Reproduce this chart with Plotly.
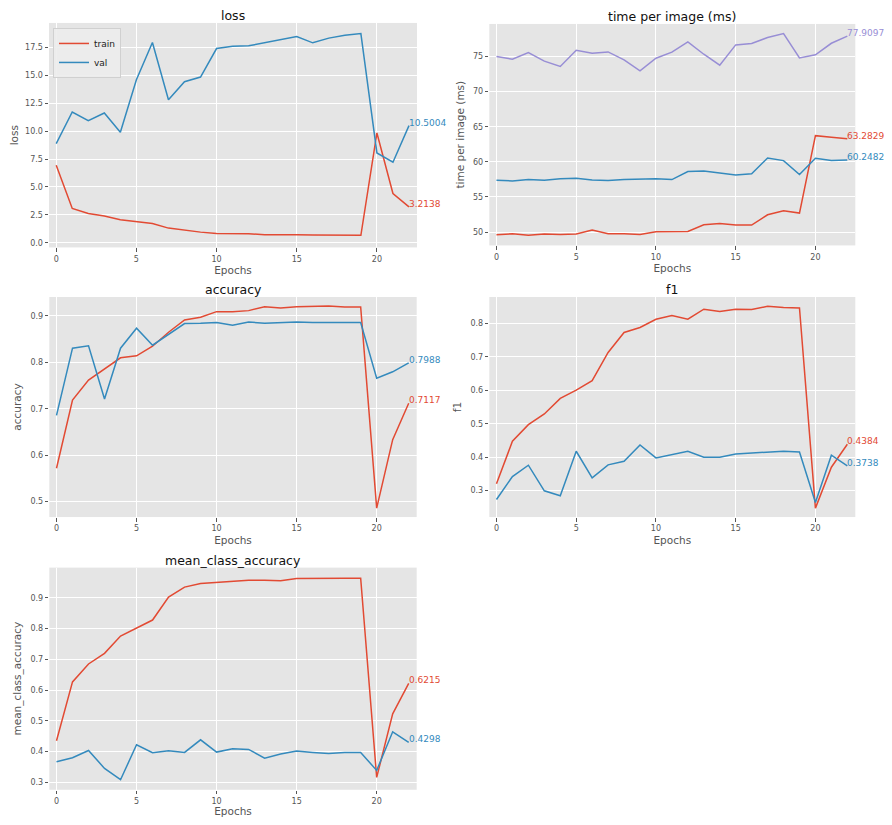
import plotly.graph_objects as go

EPOCHS = list(range(23))

LOSS_TRAIN = [6.95, 3.07, 2.62, 2.39, 2.06, 1.91, 1.73, 1.31, 1.10, 0.95, 0.83, 0.83,
              0.80, 0.72, 0.75, 0.72, 0.69, 0.66, 0.69, 0.66, 9.84, 4.41, 3.2138]
LOSS_VAL = [8.88, 11.72, 10.94, 11.63, 9.90, 14.61, 17.95, 12.82, 14.43, 14.85, 17.41, 17.62,
            17.65, 17.95, 18.19, 18.49, 17.92, 18.34, 18.60, 18.75, 8.05, 7.22, 10.5004]

TIME_TRAIN = [49.62, 49.76, 49.53, 49.72, 49.67, 49.72, 50.28, 49.76, 49.76, 49.67, 50.05, 50.05,
              50.09, 51.04, 51.23, 50.99, 50.99, 52.46, 53.03, 52.70, 63.73, 63.49, 63.2829]
TIME_VAL = [57.39, 57.29, 57.48, 57.39, 57.58, 57.67, 57.43, 57.34, 57.48, 57.58, 57.58, 57.48,
            58.62, 58.71, 58.47, 58.14, 58.29, 60.56, 60.18, 58.19, 60.51, 60.18, 60.2482]
TIME_TEST = [75.00, 74.62, 75.57, 74.34, 73.58, 75.90, 75.47, 75.66, 74.53, 72.96, 74.76, 75.62,
             77.08, 75.33, 73.77, 76.66, 76.85, 77.70, 78.27, 74.81, 75.24, 76.89, 77.9097]

ACC_TRAIN = [0.5717, 0.7186, 0.7616, 0.7853, 0.8097, 0.8140, 0.8348, 0.8649, 0.8914, 0.8971,
             0.9093, 0.9093, 0.9115, 0.9200, 0.9172, 0.9200, 0.9200, 0.9215, 0.9194, 0.9194,
             0.4857, 0.6333, 0.7117]
ACC_VAL = [0.6857, 0.8305, 0.8355, 0.7208, 0.8305, 0.8735, 0.8369, 0.8606, 0.8835, 0.8842,
           0.8857, 0.8799, 0.8871, 0.8842, 0.8857, 0.8871, 0.8857, 0.8857, 0.8864, 0.8857,
           0.7659, 0.7796, 0.7988]

F1_TRAIN = [0.3199, 0.4474, 0.4972, 0.5291, 0.5759, 0.6008, 0.6287, 0.7133, 0.7731, 0.7880,
            0.8129, 0.8239, 0.8129, 0.8428, 0.8359, 0.8428, 0.8418, 0.8518, 0.8478, 0.8468,
            0.2472, 0.3697, 0.4384]
F1_VAL = [0.2731, 0.3418, 0.3757, 0.2990, 0.2841, 0.4175, 0.3378, 0.3767, 0.3876, 0.4365,
          0.3976, 0.4076, 0.4175, 0.3996, 0.3996, 0.4096, 0.4116, 0.4155, 0.4175, 0.4155,
          0.2641, 0.4056, 0.3738]

MCA_TRAIN = [0.4351, 0.6265, 0.6849, 0.7195, 0.7757, 0.8027, 0.8276, 0.9022, 0.9346, 0.9465,
             0.9508, 0.9541, 0.9573, 0.9573, 0.9551, 0.9627, 0.9638, 0.9627, 0.9638, 0.9638,
             0.3162, 0.5227, 0.6215]
MCA_VAL = [0.3670, 0.3800, 0.4038, 0.3454, 0.3086, 0.4222, 0.3962, 0.4027, 0.3973, 0.4384,
           0.3984, 0.4092, 0.4070, 0.3789, 0.3919, 0.4016, 0.3973, 0.3941, 0.3973, 0.3973,
           0.3389, 0.4643, 0.4298]

RED = "#E24A33"
BLUE = "#348ABD"
PURPLE = "#988ED5"

# the page body has an 8px margin, so the figure is drawn inside it
PAD = 8
W, H = 892 - 2 * PAD, 825 - 2 * PAD
FONT = "DejaVu Sans, Arial, sans-serif"


def px_x(px):
    return (px - PAD) / W


def px_y(py):
    return 1 - (py - PAD) / H


# panel boxes in window pixels: (left, right, top, bottom)
PANELS = [
    {"title": "loss", "box": (49, 417, 23, 248), "yrange": [-0.42, 19.7], "dtick": 2.5, "fmt": ".1f",
     "series": [("train", LOSS_TRAIN, RED), ("val", LOSS_VAL, BLUE)]},
    {"title": "time per image (ms)", "box": (489.3, 855.3, 24, 246), "yrange": [48.1, 79.64], "dtick": 5, "fmt": "d",
     "series": [("train", TIME_TRAIN, RED), ("val", TIME_VAL, BLUE), ("test", TIME_TEST, PURPLE)]},
    {"title": "accuracy", "box": (49.3, 416.7, 297.7, 518.3), "yrange": [0.4665, 0.9409], "dtick": 0.1, "fmt": ".1f",
     "series": [("train", ACC_TRAIN, RED), ("val", ACC_VAL, BLUE)]},
    {"title": "f1", "box": (489.3, 855.3, 297.7, 518.3), "yrange": [0.2205, 0.8795], "dtick": 0.1, "fmt": ".1f",
     "series": [("train", F1_TRAIN, RED), ("val", F1_VAL, BLUE)]},
    {"title": "mean_class_accuracy", "box": (49.3, 416.7, 569, 791.7), "yrange": [0.276, 0.998], "dtick": 0.1, "fmt": ".1f",
     "series": [("train", MCA_TRAIN, RED), ("val", MCA_VAL, BLUE)]},
]


fig = go.Figure()
annotations = []
layout = {}

for i, panel in enumerate(PANELS, start=1):
    left, right, top, bottom = panel["box"]
    xa = "x" if i == 1 else f"x{i}"
    ya = "y" if i == 1 else f"y{i}"
    xkey = "xaxis" if i == 1 else f"xaxis{i}"
    ykey = "yaxis" if i == 1 else f"yaxis{i}"

    for name, values, color in panel["series"]:
        fig.add_trace(
            go.Scatter(
                x=EPOCHS,
                y=values,
                mode="lines",
                name=name,
                line={"color": color, "width": 1.5},
                xaxis=xa,
                yaxis=ya,
                showlegend=(i == 1),
            )
        )
        annotations.append(
            {
                "x": EPOCHS[-1],
                "y": values[-1],
                "xref": xa,
                "yref": ya,
                "text": f"{values[-1]:.4f}",
                "showarrow": False,
                "xanchor": "left",
                "yanchor": "middle",
                "xshift": -2,
                "yshift": 3,
                "font": {"size": 9, "color": color, "family": FONT},
            }
        )

    common = {
        "showgrid": True,
        "gridcolor": "#FFFFFF",
        "gridwidth": 1,
        "zeroline": False,
        "showline": False,
        "ticks": "outside",
        "ticklen": 3.5,
        "tickcolor": "#555555",
        "tickfont": {"size": 8, "color": "#555555", "family": FONT},
    }
    layout[xkey] = {
        **common,
        "domain": [px_x(left), px_x(right)],
        "anchor": ya,
        "range": [-0.45, 22.5],
        "tick0": 0,
        "dtick": 5,
        "title": {"text": "Epochs", "standoff": 4, "font": {"size": 10.5, "color": "#555555", "family": FONT}},
    }
    layout[ykey] = {
        **common,
        "domain": [px_y(bottom), px_y(top)],
        "anchor": xa,
        "range": panel["yrange"],
        "dtick": panel["dtick"],
        "tick0": 0,
        "tickformat": panel["fmt"],
        "title": {"text": panel["title"], "standoff": 6, "font": {"size": 10.5, "color": "#555555", "family": FONT}},
    }
    annotations.append(
        {
            "x": px_x((left + right) / 2),
            "y": px_y(top - 7.5),
            "xref": "paper",
            "yref": "paper",
            "text": panel["title"],
            "showarrow": False,
            "xanchor": "center",
            "yanchor": "middle",
            "borderpad": 0,
            "font": {"size": 12.5, "color": "#111111", "family": FONT},
        }
    )

fig.update_layout(
    width=W,
    height=H,
    margin={"l": 0, "r": 0, "t": 0, "b": 0},
    paper_bgcolor="#FFFFFF",
    plot_bgcolor="#E5E5E5",
    font={"family": FONT, "color": "#555555"},
    annotations=annotations,
    legend={
        "x": px_x(53),
        "y": px_y(28),
        "xanchor": "left",
        "yanchor": "top",
        "bgcolor": "rgba(236,236,236,0.9)",
        "bordercolor": "#D0D0D0",
        "borderwidth": 1,
        "font": {"size": 9, "color": "#222222", "family": FONT},
        "tracegroupgap": 0,
    },
    **layout,
)

fig.write_html("out.html")
